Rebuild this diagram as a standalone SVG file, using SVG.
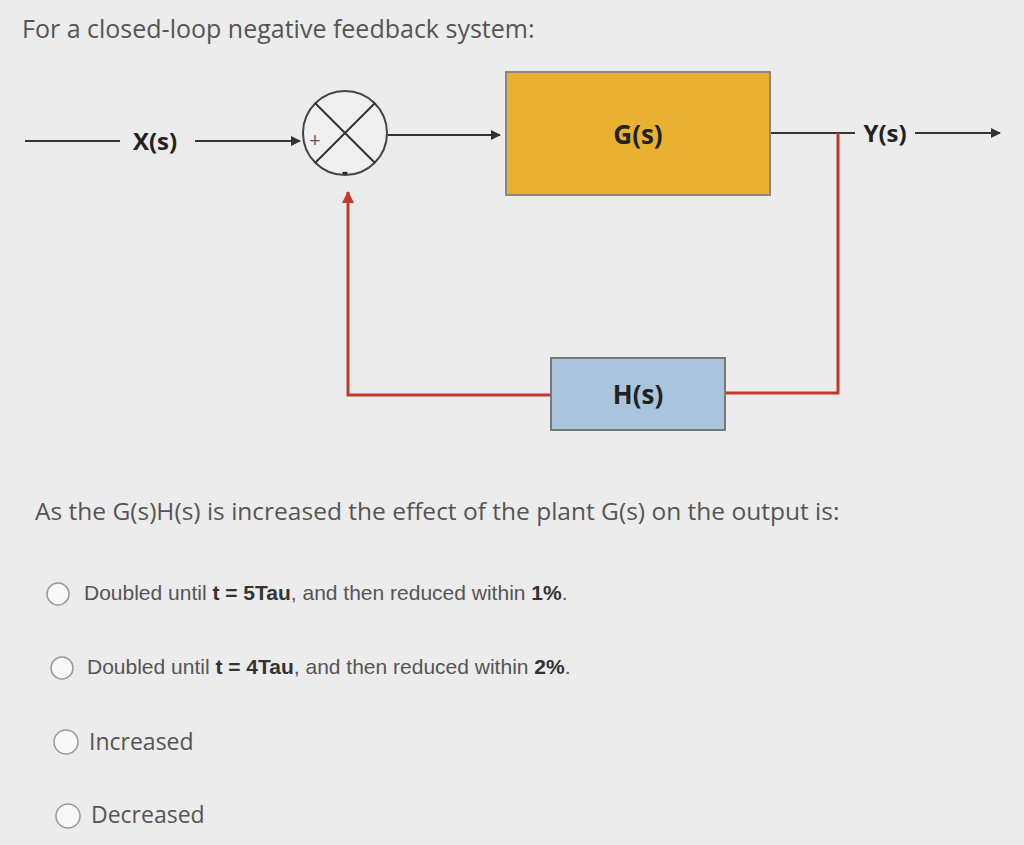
<svg xmlns="http://www.w3.org/2000/svg" width="1024" height="845" viewBox="0 0 1024 845">
<style>
.t{font-family:"Open Sans","Liberation Sans",sans-serif;fill:#555}
.b{font-family:"Open Sans","Liberation Sans",sans-serif;fill:#222;font-weight:bold}
.o{font-family:"Liberation Sans",sans-serif;fill:#555;font-size:21px}
.k{stroke:#333;stroke-width:2;fill:none}
.r{stroke:#c0392b;stroke-width:3;fill:none}
.rad{fill:#f8f8f8;stroke:#999;stroke-width:1.5}
</style>
<defs>
<marker id="a" markerWidth="10" markerHeight="10" refX="9" refY="5" orient="auto" markerUnits="userSpaceOnUse"><path d="M0,0L10,5L0,10z" fill="#333"/></marker>
<marker id="ar" markerWidth="12" markerHeight="12" refX="11" refY="6" orient="auto" markerUnits="userSpaceOnUse"><path d="M0,0L12,6L0,12z" fill="#c0392b"/></marker>
</defs>
<rect width="1024" height="845" fill="#ececec"/>
<text class="t" x="22" y="38" font-size="25">For a closed-loop negative feedback system:</text>
<g id="connectors">
<path class="k" d="M25,141H300" marker-end="url(#a)"/>
<path class="k" d="M388,135H500" marker-end="url(#a)"/>
<path class="k" d="M770,133H1000" marker-end="url(#a)"/>
<path class="r" d="M838,133V393H725"/>
<path class="r" d="M551,395H348V192" marker-end="url(#ar)"/>
</g>
<rect x="120" y="125" width="75" height="30" fill="#ececec"/>
<text class="b" x="155" y="150" font-size="24" text-anchor="middle">X(s)</text>
<rect x="855" y="118" width="60" height="30" fill="#ececec"/>
<text class="b" x="885" y="142" font-size="24" text-anchor="middle">Y(s)</text>
<g id="sum">
<circle cx="345" cy="133" r="42" fill="#f0f0f0" stroke="#444" stroke-width="2"/>
<path class="k" d="M315,103L375,163M375,103L315,163"/>
<text class="t" x="315" y="147" font-size="20" text-anchor="middle">+</text>
<text class="b" x="345" y="178" font-size="18" text-anchor="middle">-</text>
</g>
<g id="G">
<rect x="506" y="72" width="264" height="123" fill="#e8b230" stroke="#888" stroke-width="2"/>
<text class="b" x="638" y="144" font-size="26" text-anchor="middle">G(s)</text>
</g>
<g id="H">
<rect x="551" y="358" width="174" height="72" fill="#a9c4dd" stroke="#777" stroke-width="2"/>
<text class="b" x="638" y="404" font-size="26" text-anchor="middle">H(s)</text>
</g>
<text class="t" x="35" y="520" font-size="24.5">As the G(s)H(s) is increased the effect of the plant G(s) on the output is:</text>
<circle class="rad" cx="58" cy="594" r="11"/>
<text class="o" x="84" y="600">Doubled until <tspan font-weight="bold" fill="#333">t = 5Tau</tspan>, and then reduced within <tspan font-weight="bold" fill="#333">1%</tspan>.</text>
<circle class="rad" cx="62" cy="668" r="11"/>
<text class="o" x="87" y="674">Doubled until <tspan font-weight="bold" fill="#333">t = 4Tau</tspan>, and then reduced within <tspan font-weight="bold" fill="#333">2%</tspan>.</text>
<circle class="rad" cx="66" cy="742" r="12"/>
<text class="t" x="89" y="750" font-size="23">Increased</text>
<circle class="rad" cx="68" cy="816" r="12"/>
<text class="t" x="91" y="823" font-size="23">Decreased</text>
</svg>
